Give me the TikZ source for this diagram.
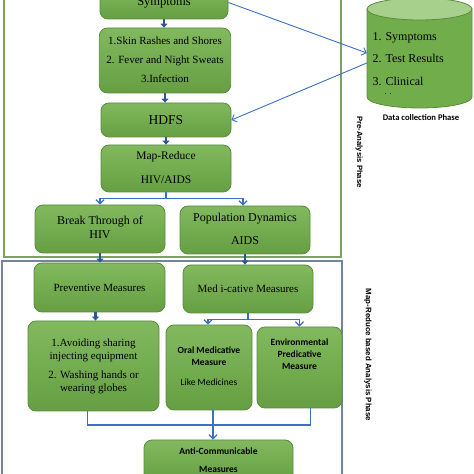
\documentclass[tikz,border=0pt]{standalone}
\usepackage{fontspec}
\setmainfont{Liberation Serif}
\setsansfont{Liberation Sans}
\newfontfamily\calibri{Carlito}
\usepackage{tikz}
\usetikzlibrary{positioning}
\usetikzlibrary{arrows.meta}

\definecolor{boxtop}{HTML}{82B95E}
\definecolor{boxbottom}{HTML}{669F43}
\definecolor{boxline}{HTML}{5A8B3D}
\definecolor{flowblue}{HTML}{2F5597}
\definecolor{linkblue}{HTML}{3B70C2}
\definecolor{framegreen}{HTML}{7BA260}
\definecolor{framegray}{HTML}{7384A2}
\definecolor{cylbody}{HTML}{72AD4C}
\definecolor{cylend}{HTML}{A8D08D}

\tikzstyle{box}=[draw=boxline, line width=0.8pt, rounded corners=8pt,
  top color=boxtop, bottom color=boxbottom, inner sep=1pt]
\tikzstyle{flow}=[draw=flowblue, line width=2.6pt, -{Triangle[length=4pt,width=7pt]}]
\tikzstyle{branch}=[draw=linkblue, line width=1.3pt]
\tikzstyle{branchtip}=[branch, -{Straight Barb[length=4pt,width=8pt]}]
\tikzstyle{link}=[draw=linkblue, line width=0.9pt, -{Straight Barb[length=4pt,width=8pt]}]

\begin{document}
\begin{tikzpicture}[x=1pt, y=1pt]

      \useasboundingbox (0,0) rectangle (474,474);

      \def\boxfont{\fontsize{11.5}{14}\selectfont}
      \def\listfont{\fontsize{11}{13}\selectfont}
      \def\smallsans{\calibri\fontsize{9.5}{12}\selectfont}

      % phase frames
      \draw[draw=framegreen, line width=1.3pt] (4,490) rectangle (341,217);
      \draw[draw=framegray, line width=1.1pt] (2,213) rectangle (342,-20);

      \node (symptoms) at (164, 471.5) [box, minimum width=128, minimum height=33]
        {\fontsize{12.5}{14}\selectfont Symptoms};
      \node (list) at (165, 413.5) [box, minimum width=130, minimum height=65] {
        {\listfont
        \begin{tabular}{c}
          1.Skin Rashes and Shores \\[6pt]
          2. Fever and Night Sweats \\[6pt]
          3.Infection
        \end{tabular}}};
      \node (hdfs) at (166, 354) [box, minimum width=130, minimum height=34]
        {\fontsize{13.5}{15}\selectfont HDFS};
      \node (mapred) at (166, 305.5) [box, minimum width=130, minimum height=47] {
        {\boxfont
        \begin{tabular}{c}
          Map-Reduce \\[10pt]
          HIV/AIDS
        \end{tabular}}};

      \node (breakhiv) at (100, 245) [box, minimum width=130, minimum height=48] {
        {\fontsize{12}{14}\selectfont
        \begin{tabular}{c}
          Break Through of \\
          HIV
        \end{tabular}}};
      \node (popdyn) at (245, 244) [box, minimum width=130, minimum height=48] {
        {\fontsize{12}{14}\selectfont
        \begin{tabular}{c}
          Population Dynamics \\[9pt]
          AIDS
        \end{tabular}}};

      \node (prevent) at (99.5, 186.5) [box, minimum width=131, minimum height=49]
        {\fontsize{11}{13}\selectfont Preventive Measures};
      \node (medic) at (248, 185) [box, minimum width=130, minimum height=48]
        {\fontsize{11}{13}\selectfont Med i-cative Measures};

      \node (avoid) at (93.5, 108) [box, minimum width=131, minimum height=90] {
        {\listfont
        \begin{tabular}{c}
          1.Avoiding sharing \\
          injecting equipment \\[6pt]
          2. Washing hands or \\
          wearing globes
        \end{tabular}}};
      \node (oral) at (209, 106.5) [box, minimum width=86, minimum height=85] {
        {\smallsans
        \begin{tabular}{c}
          \bfseries Oral Medicative \\
          \bfseries Measure \\[8pt]
          Like Medicines
        \end{tabular}}};
      \node (envir) at (299.5, 106.5) [box, minimum width=85, minimum height=81] {
        {\smallsans\bfseries
        \begin{tabular}{c}
          Environmental \\
          Predicative \\
          Measure \\[12pt]
          \mbox{}
        \end{tabular}}};

      \node (anti) at (218.5, 13) [box, minimum width=149, minimum height=42] {
        {\smallsans\bfseries
        \begin{tabular}{c}
          Anti-Communicable \\[6pt]
          Measures
        \end{tabular}}};

      % data store
      \def\cylrx{52.5}
      \def\cylry{11}
      \node (db) at (419.5, 421) [minimum width=105, minimum height=110, inner sep=0pt] {};
      \filldraw[fill=cylbody, draw=boxline, line width=0.8pt]
        (367,465) -- (367,377) arc[start angle=180, end angle=360, x radius=\cylrx, y radius=\cylry]
        -- (472,465) -- cycle;
      \filldraw[fill=cylend, draw=boxline, line width=0.8pt]
        (419.5,465) ellipse [x radius=\cylrx, y radius=\cylry];
      \node (dbtext) at (363, 446.5) [anchor=north west] {
        {\fontsize{12}{13}\selectfont
        \begin{tabular}{l}
          1. Symptoms \\[9.5pt]
          2. Test Results \\[9.5pt]
          3. Clinical \\[-4pt]
          \hspace{12pt}{\fontsize{8}{8}\selectfont .\hspace{3pt}.}
        \end{tabular}}};

      \node (dcphase) at (421, 356) {\calibri\fontsize{8.6}{10}\selectfont\bfseries Data collection Phase};
      \node (prephase) at (359, 322) [rotate=-90]
        {\sffamily\fontsize{7.7}{9}\selectfont\bfseries Pre-Analysis Phase};
      \node (mrphase) at (368, 119) [rotate=-90]
        {\sffamily\fontsize{7.9}{9}\selectfont\bfseries Map-Reduce based Analysis Phase};

      % column arrows
      \draw[flow] (symptoms.south) -- (symptoms.south |- list.north);
      \draw[flow] (list.south) -- (list.south |- hdfs.north);
      \draw[flow] (hdfs.south) -- (hdfs.south |- mapred.north);
      \draw[flow] (breakhiv.south) -- (breakhiv.south |- prevent.north);
      \draw[flow] (popdyn.south) -- (popdyn.south |- medic.north);
      \draw[flow] ([xshift=-4]prevent.south) -- ([xshift=-4]prevent.south |- avoid.north);

      % splits and merge
      \draw[branch] (mapred.south) -- ++(0,-6) coordinate (split1);
      \draw[branchtip] (split1) -| (breakhiv.north);
      \draw[branchtip] (split1) -| ([xshift=-2]popdyn.north);

      \draw[branch] (medic.south) -- ++(0,-6) coordinate (split2);
      \draw[branchtip] (split2) -| ([xshift=-1]oral.north);
      \draw[branchtip] (split2) -| (envir.north);

      \coordinate (merge) at (213, 49);
      \draw[branch] ([xshift=-6]avoid.south) |- (merge) -| ([xshift=11]envir.south);
      \draw[branch] ([xshift=4]oral.south) -- (merge);
      \draw[branchtip] (merge) -- (merge |- anti.north);

      % links to the data store
      \draw[link] (symptoms.east) -- (db.west);
      \draw[link] ([yshift=-10]db.west) -- (hdfs.east);

    \end{tikzpicture}
\end{document}
